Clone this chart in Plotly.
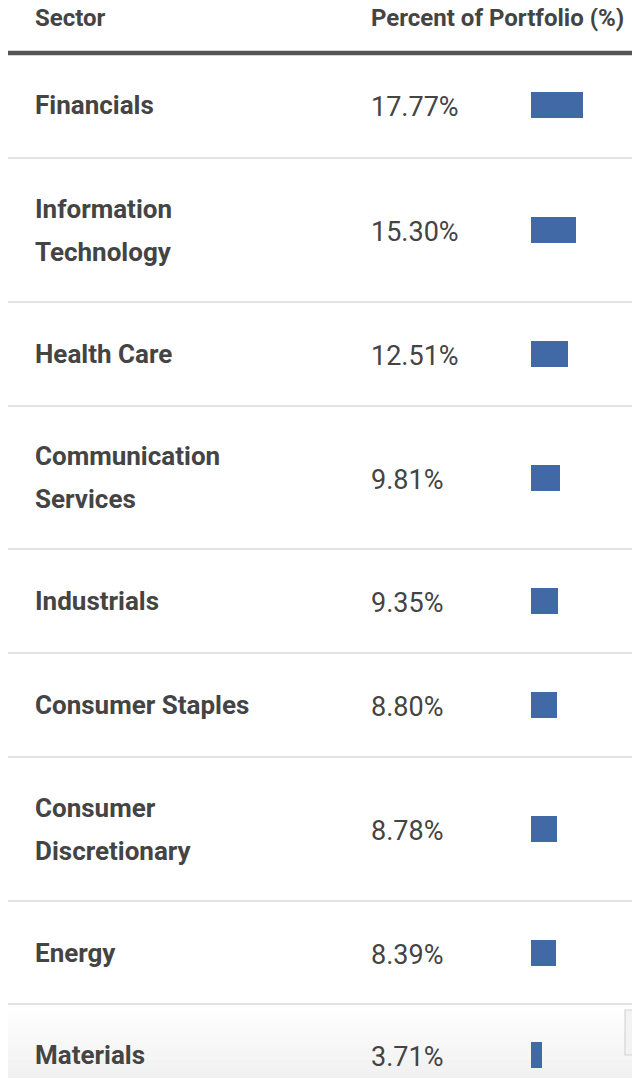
import plotly.graph_objects as go

sectors = ["Financials", "Information<br>Technology", "Health Care", "Communication<br>Services",
           "Industrials", "Consumer Staples", "Consumer<br>Discretionary", "Energy", "Materials"]
percents = [17.77, 15.30, 12.51, 9.81, 9.35, 8.80, 8.78, 8.39, 3.71]

W, H = 640, 1079
OFF = 8  # page body margin compensation
# row layout in pixels
row_tops = [52, 158, 302, 406, 549, 653, 757, 901, 1004]
row_bottoms = row_tops[1:] + [1106]
centers = [(t + b) / 2 for t, b in zip(row_tops, row_bottoms)]
centers[-1] = 1055

txt = "#444444"
fig = go.Figure()

# bar column: x2 axis covers pixels 531..640, ~2.93 px per percent
px_per_pct = 2.93
fig.add_trace(go.Bar(
    x=percents, y=centers, orientation="h", base=0, width=26,
    marker=dict(color="#4169a6", line=dict(width=0)),
    xaxis="x2", yaxis="y", hoverinfo="skip", showlegend=False,
))

shapes = []
# bottom fade
for i in range(12):
    y0 = 1006 + i * 6
    shapes.append(dict(type="rect", xref="x", yref="y", x0=0, x1=W + OFF, y0=y0, y1=y0 + 6,
                       fillcolor=f"rgba(225,225,225,{0.03 + i*0.04:.2f})", line=dict(width=0), layer="below"))
shapes.append(dict(type="rect", xref="x", yref="y", x0=625, x1=660, y0=1010, y1=1055,
                   fillcolor="#f3f3f3", line=dict(color="#d6d6d6", width=1.2)))
# header double line
shapes.append(dict(type="line", xref="x", yref="y", x0=6, x1=W + OFF, y0=53, y1=53,
                   line=dict(color="#555555", width=4.5)))
for t in row_tops[1:]:
    shapes.append(dict(type="line", xref="x", yref="y", x0=6, x1=W + OFF, y0=t, y1=t,
                       line=dict(color="#d8d8d8", width=1.3)))

ann = [
    dict(x=33, y=18, text="Sector", font=dict(size=24, color=txt, family="Roboto", weight="bold")),
    dict(x=369, y=18, text="Percent of Portfolio (%)", font=dict(size=24, color=txt, family="Roboto", weight="bold")),
]
for s, p, c in zip(sectors, percents, centers):
    lines = s.split("<br>")
    n = len(lines)
    for k, ln in enumerate(lines):
        ann.append(dict(x=33, y=c + (k - (n - 1) / 2) * 43, text=ln,
                        font=dict(size=26, color=txt, family="Roboto", weight="bold")))
    ann.append(dict(x=369, y=c + 2, text=f"{p:.2f}%", font=dict(size=27, color=txt, family="Roboto")))
for a in ann:
    a.update(xref="x", yref="y", xanchor="left", yanchor="middle", showarrow=False)

x0_bar = 531 - OFF
fig.update_layout(
    width=W, height=H, margin=dict(l=0, r=0, t=0, b=0),
    paper_bgcolor="white", plot_bgcolor="rgba(0,0,0,0)",
    xaxis=dict(range=[OFF, W + OFF], visible=False, domain=[0, 1]),
    xaxis2=dict(range=[0, (W - x0_bar) / px_per_pct], domain=[x0_bar / W, 1], visible=False,
                anchor="y"),
    yaxis=dict(range=[H + OFF, OFF], visible=False),
    shapes=shapes, annotations=ann, bargap=0,
)
fig.write_html("out.html")
